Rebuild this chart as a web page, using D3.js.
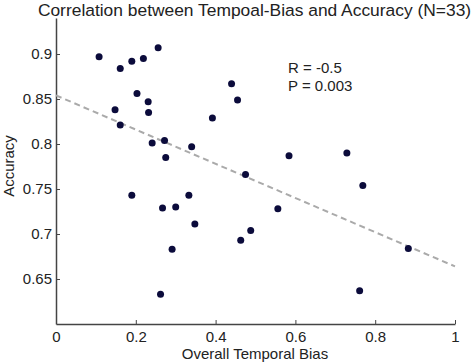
<!DOCTYPE html>
<html><head><meta charset="utf-8">
<script src="https://cdn.jsdelivr.net/npm/d3@7"></script>
<style>body{margin:0;background:#fff}svg{display:block;font-family:"Liberation Sans",Arial,sans-serif}</style>
</head><body><svg id="c" width="474" height="362"></svg>
<script>
const biasValues = [0.108,0.256,0.161,0.190,0.219,0.203,0.231,0.148,0.232,0.392,0.161,0.272,0.241,0.340,0.275,0.440,0.455,0.584,0.729,0.190,0.333,0.267,0.300,0.348,0.291,0.262,0.475,0.556,0.488,0.463,0.769,0.883,0.761];
const accuracyValues = [0.897,0.907,0.884,0.892,0.895,0.856,0.847,0.838,0.835,0.829,0.821,0.804,0.801,0.797,0.785,0.867,0.849,0.787,0.790,0.743,0.743,0.729,0.730,0.711,0.683,0.633,0.766,0.728,0.704,0.693,0.754,0.684,0.637];
const fitX = [0, 1];
const fitY = [0.854, 0.664];
const xTicks = [0, 0.2, 0.4, 0.6, 0.8, 1];
const yTicks = [0.65, 0.7, 0.75, 0.8, 0.85, 0.9];
const statLines = ["R = -0.5", "P = 0.003"];

const svg = d3.select("#c");
const x = d3.scaleLinear().domain([0, 1]).range([56, 455]);
const y = d3.scaleLinear().domain([0.6, 0.94]).range([324, 18]);

const xAxis = svg.append("g").attr("transform", `translate(0,${y(0.6)})`)
  .call(d3.axisBottom(x).tickValues(xTicks).tickFormat(d3.format("~g")).tickSizeInner(-4).tickSizeOuter(0).tickPadding(7));
const yAxis = svg.append("g").attr("transform", `translate(${x(0)},0)`)
  .call(d3.axisLeft(y).tickValues(yTicks).tickFormat(d3.format("~g")).tickSizeInner(-4).tickSizeOuter(0).tickPadding(4));
[xAxis, yAxis].forEach(g => {
  g.select(".domain").attr("stroke", "#444").attr("stroke-width", 1.5);
  g.selectAll(".tick line").attr("stroke", "#444").attr("stroke-width", 1);
  g.selectAll(".tick text").attr("fill", "#222").style("font-size", "15px").style("font-family", '"Liberation Sans",Arial,sans-serif');
});

// regression line
svg.append("line")
  .attr("x1", x(fitX[0])).attr("y1", y(fitY[0]))
  .attr("x2", x(fitX[1])).attr("y2", y(fitY[1]))
  .attr("stroke", "#aaa").attr("stroke-width", 2).attr("stroke-dasharray", "6,4");

// points
svg.append("g").selectAll("circle").data(biasValues.map((b, i) => [b, accuracyValues[i]]))
  .join("circle").attr("cx", d => x(d[0])).attr("cy", d => y(d[1])).attr("r", 3.5).attr("fill", "#0b0b3b");

// title
svg.append("text").attr("x", 254.5).attr("y", 16).attr("text-anchor", "middle")
  .style("font-size", "17.4px").attr("fill", "#222").text("Correlation between Tempoal-Bias and Accuracy (N=33)");

// axis labels
svg.append("text").attr("x", 255).attr("y", 358.5).attr("text-anchor", "middle")
  .style("font-size", "15px").attr("fill", "#222").text("Overall Temporal Bias");
svg.append("text").attr("transform", "translate(13.5,166) rotate(-90)").attr("text-anchor", "middle")
  .style("font-size", "15px").attr("fill", "#222").text("Accuracy");

// stats
svg.append("g").selectAll("text").data(statLines).join("text")
  .attr("x", 288).attr("y", (d, i) => 72.5 + i * 18.5)
  .style("font-size", "15px").attr("fill", "#222").text(d => d);
</script></body></html>
